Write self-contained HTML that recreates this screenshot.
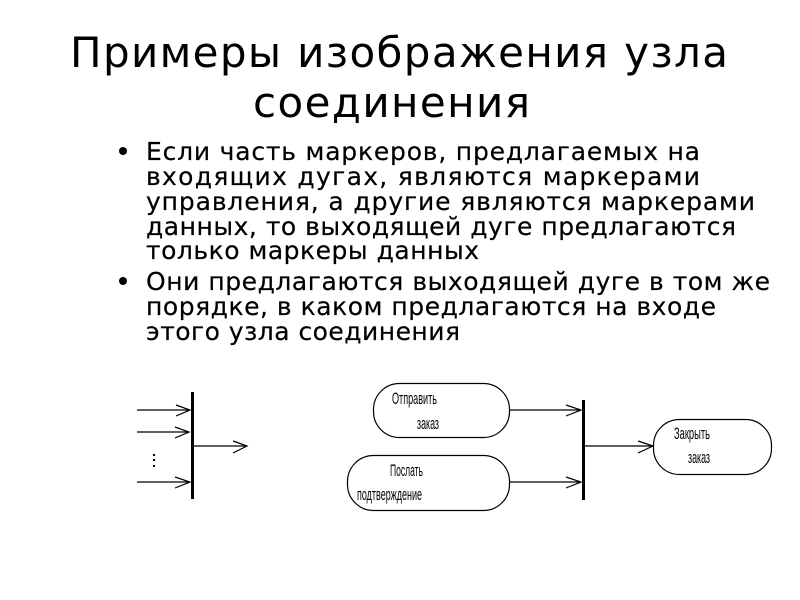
<!DOCTYPE html>
<html><head><meta charset="utf-8"><style>
html,body{margin:0;padding:0;background:#fff}
svg{display:block}
text{font-family:"DejaVu Sans",sans-serif;fill:#000}
.t{font-size:42px}
.b{font-size:25px;stroke:#000;stroke-width:.2px}
.s{font-family:"Liberation Sans",sans-serif;font-size:17px}
</style></head><body>
<svg width="800" height="600" viewBox="0 0 800 600" xmlns="http://www.w3.org/2000/svg">
<rect width="800" height="600" fill="#fff"/>
<text class="t" x="70" y="67" textLength="658" lengthAdjust="spacing">Примеры изображения узла</text>
<text class="t" x="253" y="117" textLength="277" lengthAdjust="spacing">соединения</text>
<circle cx="123" cy="151" r="4" fill="#000"/>
<text class="b" x="146" y="160" textLength="554" lengthAdjust="spacing">Если часть маркеров, предлагаемых на</text>
<text class="b" x="146" y="185" textLength="554" lengthAdjust="spacing">входящих дугах, являются маркерами</text>
<text class="b" x="146" y="210" textLength="609" lengthAdjust="spacing">управления, а другие являются маркерами</text>
<text class="b" x="146" y="235" textLength="590" lengthAdjust="spacing">данных, то выходящей дуге предлагаются</text>
<text class="b" x="146" y="259" textLength="333" lengthAdjust="spacing">только маркеры данных</text>
<circle cx="123" cy="281" r="4" fill="#000"/>
<text class="b" x="146" y="290" textLength="624" lengthAdjust="spacing">Они предлагаются выходящей дуге в том же</text>
<text class="b" x="146" y="315" textLength="570" lengthAdjust="spacing">порядке, в каком предлагаются на входе</text>
<text class="b" x="146" y="340" textLength="314" lengthAdjust="spacing">этого узла соединения</text>

<g fill="none" stroke="#000" stroke-width="1.2">
<path d="M137 410H190M176 405L190 410L176 416"/>
<path d="M137 432H189M175 427L189 432L175 438"/>
<path d="M137 482H190M175 477L190 482L175 488"/>
<path d="M193 446H247M233 441L247 446L233 453"/>
<rect x="373.500" y="383.500" width="136" height="54" rx="26" ry="26"/>
<rect x="347.500" y="455.500" width="162" height="55" rx="26" ry="26"/>
<rect x="653.500" y="419.500" width="118" height="55" rx="26" ry="26"/>
<path d="M510 410H581M566 405L581 410L566 416"/>
<path d="M510 482H581M566 477L581 482L566 488"/>
<path d="M585 446H653M638 441L653 446L638 453"/>
</g>
<rect x="191" y="392" width="3" height="107" fill="#000"/>
<rect x="582" y="400" width="3" height="100" fill="#000"/>
<rect x="153" y="454" width="2" height="2" fill="#000"/>
<rect x="153" y="459" width="2" height="2" fill="#000"/>
<rect x="153" y="465" width="2" height="2" fill="#000"/>

<text class="s" x="392" y="404" textLength="45" lengthAdjust="spacingAndGlyphs">Отправить</text>
<text class="s" x="417" y="429" textLength="22" lengthAdjust="spacingAndGlyphs">заказ</text>
<text class="s" x="390" y="476" textLength="33" lengthAdjust="spacingAndGlyphs">Послать</text>
<text class="s" x="357" y="500" textLength="65" lengthAdjust="spacingAndGlyphs">подтверждение</text>
<text class="s" x="674" y="439" textLength="36" lengthAdjust="spacingAndGlyphs">Закрыть</text>
<text class="s" x="688" y="463" textLength="22" lengthAdjust="spacingAndGlyphs">заказ</text>
</svg>
</body></html>
